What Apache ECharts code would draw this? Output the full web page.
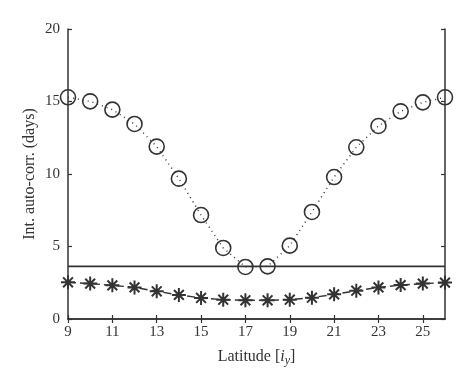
<!DOCTYPE html>
<html><head><meta charset="utf-8">
<script src="https://cdn.jsdelivr.net/npm/echarts@6/dist/echarts.min.js"></script>
<style>html,body{margin:0;padding:0;background:#fff}#c{width:474px;height:388px}</style>
</head><body><div id="c"></div>
<script>
const latitudes = [9,10,11,12,13,14,15,16,17,18,19,20,21,22,23,24,25,26];
const circleValues = [15.29,15.01,14.44,13.45,11.89,9.68,7.17,4.90,3.59,3.63,5.06,7.38,9.79,11.84,13.31,14.32,14.94,15.29];
const starValues = [2.53,2.44,2.32,2.18,1.91,1.66,1.45,1.33,1.29,1.29,1.33,1.47,1.70,1.95,2.18,2.34,2.44,2.51];
const thresholdX = [9,26];
const thresholdY = 3.63;
const xTicks = [9,11,13,15,17,19,21,23,25];
const yTicks = [0,5,10,15,20];

const C = '#333333';
const FONT = 'Liberation Serif';
const star = 'path://M0,-10L0,10M-10,0L10,0M-7,-7L7,7M-7,7L7,-7';

const chart = echarts.init(document.getElementById('c'));
const axisCommon = {
  axisLine:{show:true,lineStyle:{color:C,width:1.5}},
  splitLine:{show:false}
};
chart.setOption({
  animation:false,
  backgroundColor:'#fff',
  grid:{left:68,right:29,top:29,bottom:69},
  xAxis:[{
    ...axisCommon, type:'value', min:9, max:26, position:'bottom',
    axisTick:{inside:true,length:4,lineStyle:{color:C,width:1.2},customValues:xTicks},
    axisLabel:{customValues:xTicks,color:C,fontFamily:FONT,fontSize:15,margin:6},
    name:'{a|Latitude [}{i|i}{s|y}{a|]}', nameLocation:'middle', nameGap:27,
    nameTextStyle:{rich:{
      a:{fontFamily:FONT,fontSize:16,color:C},
      i:{fontFamily:FONT,fontSize:16,fontStyle:'italic',color:C},
      s:{fontFamily:FONT,fontSize:12,fontStyle:'italic',color:C,padding:[9,0,0,0]}
    }}
  },{
    ...axisCommon, type:'value', min:9, max:26, position:'top',
    axisTick:{inside:true,length:4,lineStyle:{color:C,width:1.2},customValues:xTicks},
    axisLabel:{show:false}
  }],
  yAxis:[{
    ...axisCommon, type:'value', min:0, max:20, interval:5, position:'left',
    axisTick:{inside:true,length:4,lineStyle:{color:C,width:1.2},customValues:yTicks},
    axisLabel:{customValues:yTicks,color:C,fontFamily:FONT,fontSize:15,margin:8},
    name:'Int. auto-corr. (days)', nameLocation:'middle', nameGap:30, nameMoveOverlap:false,
    nameTextStyle:{fontFamily:FONT,fontSize:16,color:C}
  },{
    ...axisCommon, type:'value', min:0, max:20, interval:5, position:'right',
    axisTick:{inside:true,length:4,lineStyle:{color:C,width:1.2},customValues:yTicks},
    axisLabel:{show:false}
  }],
  series:[{
    type:'line', data:latitudes.map((x,i)=>[x,circleValues[i]]),
    symbol:'circle', symbolSize:15,
    lineStyle:{color:C,width:1.4,type:[1,4]},
    itemStyle:{color:'rgba(0,0,0,0)',borderColor:C,borderWidth:1.6}
  },{
    type:'line', data:latitudes.map((x,i)=>[x,starValues[i]]),
    symbol:star, symbolSize:14,
    lineStyle:{color:C,width:1.4,type:[8,4]},
    itemStyle:{color:C,borderColor:C,borderWidth:2}
  },{
    type:'line', data:thresholdX.map(x=>[x,thresholdY]),
    symbol:'none', lineStyle:{color:C,width:1.8}
  }]
});
</script></body></html>
